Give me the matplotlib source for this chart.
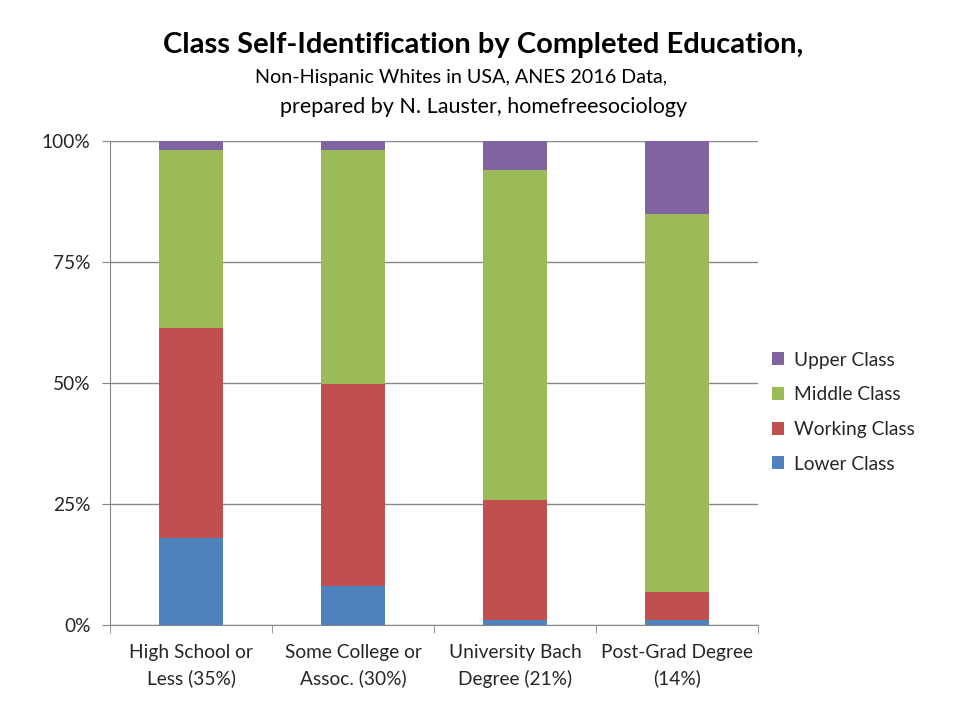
import matplotlib.pyplot as plt
import numpy as np

plt.rcParams['font.family'] = ['Lato', 'DejaVu Sans']

categories = ['High School or\nLess (35%)', 'Some College or\nAssoc. (30%)',
              'University Bach\nDegree (21%)', 'Post-Grad Degree\n(14%)']
lower = [18.0, 8.0, 1.0, 1.0]
working = [43.4, 41.9, 24.9, 5.9]
middle = [36.7, 48.2, 68.1, 78.1]
upper = [1.9, 1.9, 6.0, 15.0]

series = [('Lower Class', lower, '#4F81BD'),
          ('Working Class', working, '#C0504D'),
          ('Middle Class', middle, '#9BBB59'),
          ('Upper Class', upper, '#8064A2')]

fig = plt.figure(figsize=(9.6, 7.2), dpi=100)
ax = fig.add_axes([0.1146, 0.132, 0.675, 0.672])

x = np.arange(len(categories))
bottom = np.zeros(len(categories))
for name, vals, col in series:
    ax.bar(x, vals, width=0.395, bottom=bottom, color=col, label=name, zorder=3)
    bottom += np.array(vals)

ax.set_xlim(-0.5, len(categories) - 0.5)
ax.set_ylim(0, 100)
ax.set_yticks([0, 25, 50, 75, 100])
ax.set_yticklabels(['0%', '25%', '50%', '75%', '100%'], fontsize=13.8, color='#262626')
ax.yaxis.grid(True, color='#868686', linewidth=1, zorder=0)

ax.set_xticks(x)
ax.set_xticklabels(categories, fontsize=13.8, color='#262626', linespacing=1.55)
ax.tick_params(axis='x', length=0, pad=14)
ax.set_xticks(np.arange(-0.5, len(categories)), minor=True)
ax.tick_params(axis='x', which='minor', length=6, color='#868686', direction='out')
ax.tick_params(axis='y', length=6, color='#868686', direction='out', pad=8)

for side in ['top', 'right']:
    ax.spines[side].set_visible(False)
for side in ['left', 'bottom']:
    ax.spines[side].set_color('#868686')

handles, labels = ax.get_legend_handles_labels()
ax.legend(handles[::-1], labels[::-1], loc='center left', bbox_to_anchor=(0.995, 0.44),
          frameon=False, fontsize=13.8, handlelength=0.65, handleheight=0.65,
          handletextpad=0.5, labelspacing=0.92, labelcolor='#262626')

fig.text(0.503, 0.937, 'Class Self-Identification by Completed Education,',
         ha='center', va='center', fontsize=21, fontweight='bold', color='black')
fig.text(0.480, 0.892, 'Non-Hispanic Whites in USA, ANES 2016 Data,',
         ha='center', va='center', fontsize=14.2, color='black')
fig.text(0.504, 0.852, 'prepared by N. Lauster, homefreesociology',
         ha='center', va='center', fontsize=15.5, color='black')

fig.savefig('out.png', dpi=100)
